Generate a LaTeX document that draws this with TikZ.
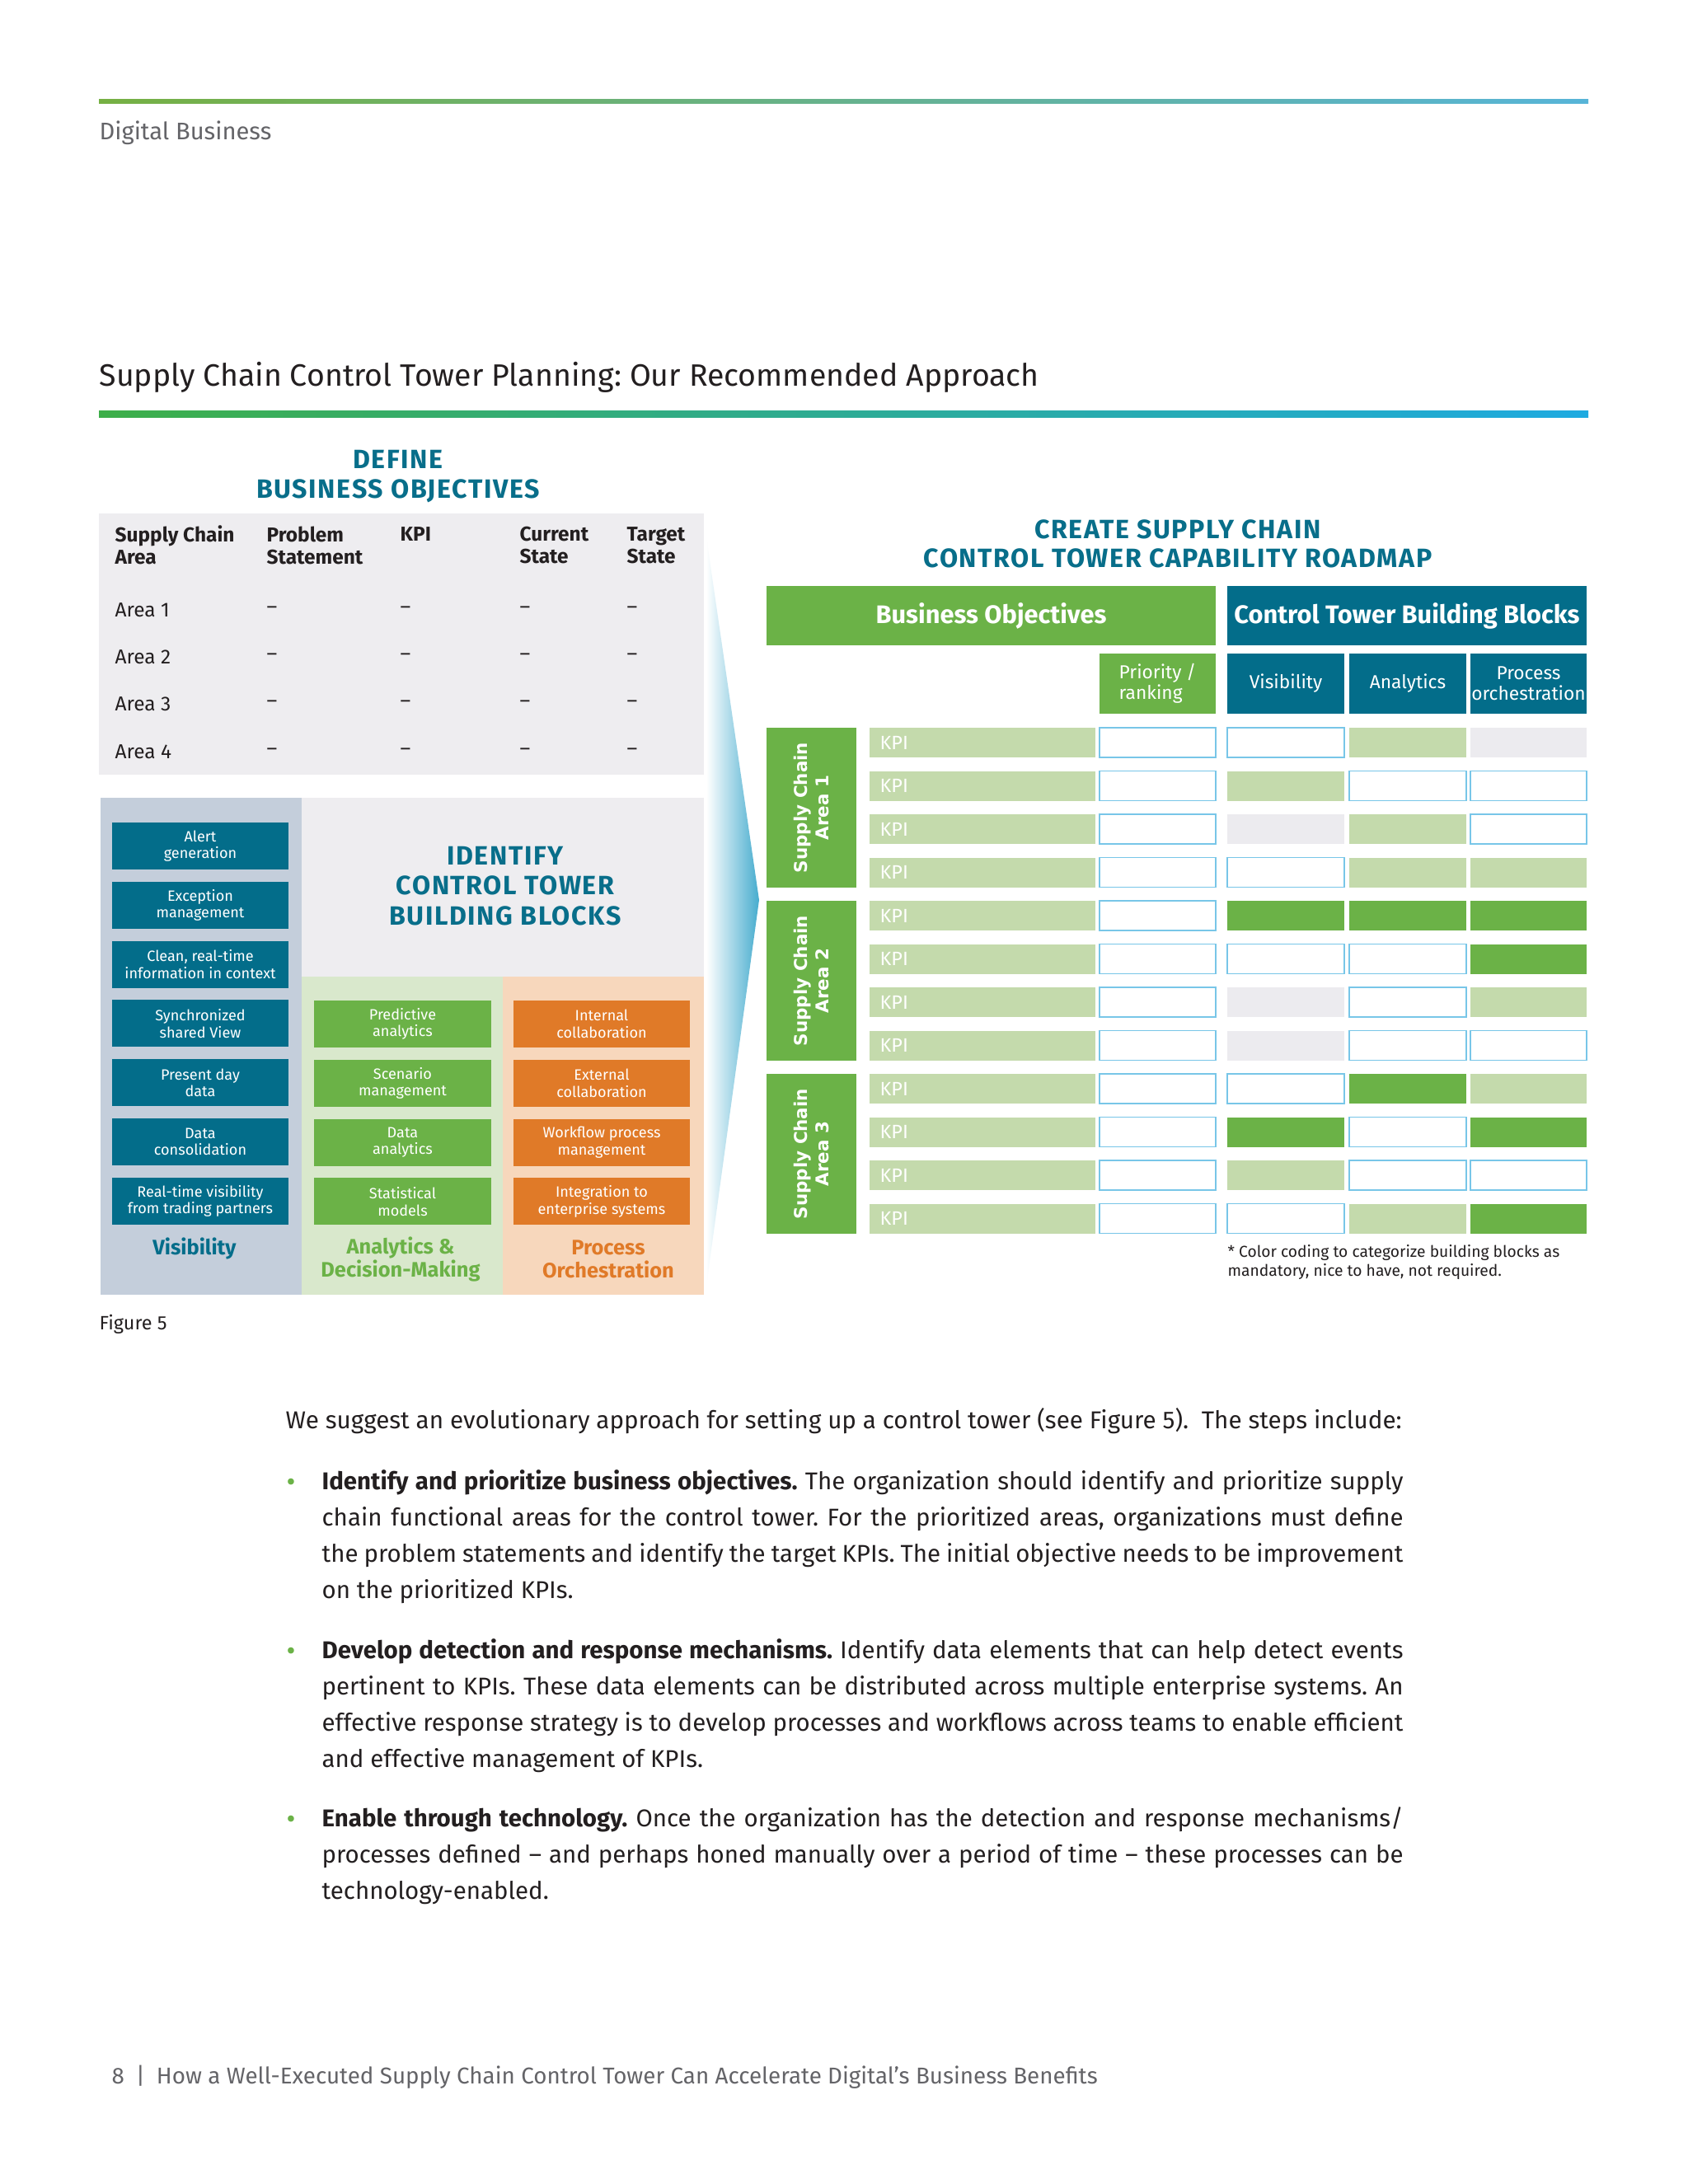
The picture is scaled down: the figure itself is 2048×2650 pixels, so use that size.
\documentclass[tikz,border=0pt]{standalone}
\usepackage{fontspec}
\setmainfont{Fira Sans}
\newfontfamily\verd{DejaVu Sans}
\newfontfamily\headfont{Fira Sans}[LetterSpace=5.0]
\definecolor{ink}{RGB}{35,31,32}
\definecolor{greytxt}{RGB}{100,100,104}
\definecolor{headteal}{RGB}{8,110,138}
\definecolor{boxteal}{RGB}{3,109,138}
\definecolor{cgreen}{RGB}{107,178,71}
\definecolor{lgreen}{RGB}{196,218,172}
\definecolor{lgray}{RGB}{236,235,239}
\definecolor{pgray}{RGB}{238,237,240}
\definecolor{bluegray}{RGB}{196,206,219}
\definecolor{greenbg}{RGB}{217,232,204}
\definecolor{corange}{RGB}{224,122,40}
\definecolor{orangebg}{RGB}{247,215,188}
\definecolor{cellblue}{RGB}{120,198,232}
\definecolor{chevblue}{RGB}{70,172,206}
\definecolor{ruleA}{RGB}{118,176,67}
\definecolor{ruleB}{RGB}{87,180,216}
\definecolor{ruleC}{RGB}{61,174,73}
\definecolor{ruleD}{RGB}{0,168,140}
\definecolor{ruleE}{RGB}{30,170,225}
\newcommand\fsz[2]{\fontsize{#1}{#2}\selectfont}
\newcommand\mkcell[7]{\node[inner sep=0pt,outer sep=0pt,#6,minimum width={(#4-#2)*0.2988pt},minimum height={(#5-#3)*0.2988pt}] (#1) at ({(#2+#4)/2},{(#3+#5)/2}) {#7};}
\tikzset{
  vis/.style={fill=boxteal,text=white,font=\fsz{5.4}{6.1},align=center},
  ana/.style={fill=cgreen,text=white,font=\fsz{5.4}{6.1},align=center},
  orc/.style={fill=corange,text=white,font=\fsz{5.4}{6.1},align=center},
  kpi/.style={fill=lgreen,text=white,font=\fsz{7}{8},inner xsep=3.6pt,text width=74.3pt,align=left},
  cW/.style={fill=white,draw=cellblue,line width=0.55pt},
  cL/.style={fill=lgreen},
  cG/.style={fill=cgreen},
  cE/.style={fill=lgray},
  heading/.style={text=headteal,font=\headfont\bfseries\fsz{9.6}{10.8},align=center},
  thead/.style={anchor=west,text=ink,font=\bfseries\fsz{7.3}{8.1},align=left,inner sep=0pt},
  trow/.style={anchor=west,text=ink,font=\fsz{7.3}{8.1},inner sep=0pt},
  barhead/.style={text=white,font=\bfseries\fsz{9.2}{10}},
  colhead/.style={fill=boxteal,text=white,font=\fsz{6.8}{7.5},align=center},
  body/.style={anchor=north west,inner sep=0pt,text=ink,font=\fsz{8.8}{13.15},text width=392pt,align=justify},
  bullet/.style={text=cgreen,font=\fsz{10}{10},inner sep=0pt}
}
\begin{document}
\frenchspacing
\begin{tikzpicture}[x=0.2988pt,y=-0.2988pt]
\useasboundingbox (0,0) rectangle (2048,2650);
\fill[white] (0,0) rectangle (2048,2650);

% page header
\shade[left color=ruleA,right color=ruleB] (120,120) rectangle (1927,125);
\node[anchor=west,inner sep=0pt,text=greytxt,font=\fsz{8.7}{10}] (runhead) at (120,161) {Digital Business};
\node[anchor=west,inner sep=0pt,text=ink,font=\fsz{11.2}{13}] (title) at (120,458) {Supply Chain Control Tower Planning: Our Recommended Approach};
\shade[left color=ruleC,middle color=ruleD,right color=ruleE] (120,498) rectangle (1927,506);

% define business objectives
\node[heading] (defhead) at (483,578) {DEFINE\\BUSINESS OBJECTIVES};
\mkcell{deftab}{120}{623}{854}{940}{fill=pgray}{}
\node[thead] (h1) at (139,661.5) {Supply Chain\\Area};
\node[thead] (h2) at (323,661.5) {Problem\\Statement};
\node[thead] (h3) at (485,648) {KPI};
\node[thead] (h4) at (630,661.5) {Current\\State};
\node[thead] (h5) at (760,661.5) {Target\\State};
\foreach \n/\yy in {1/740,2/797,3/854,4/912}{
  \node[trow] (area\n) at (139,\yy) {Area \n};
  \node[trow] (d\n a) at (323,\yy) {–};
  \node[trow] (d\n b) at (485,\yy) {–};
  \node[trow] (d\n c) at (630,\yy) {–};
  \node[trow] (d\n d) at (760,\yy) {–};
}

% chevron
\shade[left color=white,right color=chevblue] (857,652) -- (921,1092) -- (857,1560) -- cycle;

% identify building blocks panel
\mkcell{visbg}{122}{968}{366}{1571}{fill=bluegray}{}
\mkcell{idbg}{366}{968}{854}{1185}{fill=pgray}{}
\mkcell{anabg}{366}{1185}{610}{1571}{fill=greenbg}{}
\mkcell{orcbg}{610}{1185}{854}{1571}{fill=orangebg}{}
\node[heading] (idhead) at (613,1075) {IDENTIFY\\CONTROL TOWER\\BUILDING BLOCKS};
\foreach \t [count=\k from 0] in {{Alert\\generation},{Exception\\management},{Clean, real-time\\information in context},{Synchronized\\shared View},{Present day\\data},{Data\\consolidation},{Real-time visibility\\from trading partners}}{
  \pgfmathsetmacro\yt{998+\k*71.8}
  \pgfmathsetmacro\yb{\yt+57}
  \mkcell{vb\k}{136}{\yt}{350}{\yb}{vis}{\t}
}
\foreach \t [count=\k from 0] in {{Predictive\\analytics},{Scenario\\management},{Data\\analytics},{Statistical\\models}}{
  \pgfmathsetmacro\yt{1214+\k*71.8}
  \pgfmathsetmacro\yb{\yt+57}
  \mkcell{ab\k}{381}{\yt}{596}{\yb}{ana}{\t}
}
\foreach \t [count=\k from 0] in {{Internal\\collaboration},{External\\collaboration},{Workflow process\\management},{Integration to\\enterprise systems}}{
  \pgfmathsetmacro\yt{1214+\k*71.8}
  \pgfmathsetmacro\yb{\yt+57}
  \mkcell{ob\k}{623}{\yt}{837}{\yb}{orc}{\t}
}
\node[text=boxteal,font=\bfseries\fsz{7.6}{8.4}] (vislab) at (236,1515) {Visibility};
\node[text=cgreen,font=\bfseries\fsz{7.6}{8.4},align=center] (analab) at (486,1528) {Analytics \&\\Decision-Making};
\node[text=corange,font=\bfseries\fsz{7.6}{8.4},align=center] (orclab) at (738,1528) {Process\\Orchestration};

% roadmap
\node[heading,font=\headfont\bfseries\fsz{9.6}{10.5}] (rmhead) at (1429,659.5) {CREATE SUPPLY CHAIN\\CONTROL TOWER CAPABILITY ROADMAP};
\mkcell{bobar}{930}{711}{1475}{783}{fill=cgreen,barhead}{Business Objectives}
\mkcell{ctbar}{1489}{711}{1925}{783}{fill=boxteal,barhead}{Control Tower Building Blocks}
\mkcell{prihd}{1334}{793}{1475}{866}{fill=cgreen,text=white,font=\fsz{6.8}{7.5}}{}
\node[text=white,font=\fsz{6.8}{7.5},align=left,inner sep=0pt] (pritxt) at (prihd.center) {Priority /\\ranking};
\mkcell{vishd}{1489}{793}{1631}{866}{colhead}{Visibility}
\mkcell{anahd}{1637}{793}{1779}{866}{colhead}{Analytics}
\mkcell{prohd}{1784}{793}{1925}{866}{colhead}{Process\\orchestration}
\foreach \n in {1,2,3}{
  \pgfmathsetmacro\yt{883+(\n-1)*210}
  \pgfmathsetmacro\yb{\yt+194}
  \mkcell{sc\n}{930}{\yt}{1039}{\yb}{fill=cgreen}{}
  \node[rotate=90,text=white,font=\verd\bfseries\fsz{6.4}{7.8},align=center] (sct\n) at (sc\n.center) {Supply Chain\\Area \n};
}
\foreach \va/\vb/\vc [count=\i from 0] in {W/L/E,L/W/W,E/L/W,W/L/L,G/G/G,W/W/G,E/W/L,E/W/W,W/G/L,G/W/G,L/W/W,W/L/G}{
  \pgfmathsetmacro\yt{883+int(\i/4)*210+mod(\i,4)*52.5}
  \pgfmathsetmacro\yb{\yt+36}
  \edef\rowcmd{%
    \noexpand\mkcell{kpi\i}{1055}{\yt}{1329}{\yb}{kpi}{KPI}%
    \noexpand\mkcell{pri\i}{1334}{\yt}{1475}{\yb}{cW}{}%
    \noexpand\mkcell{vis\i}{1489}{\yt}{1631}{\yb}{c\va}{}%
    \noexpand\mkcell{ana\i}{1637}{\yt}{1779}{\yb}{c\vb}{}%
    \noexpand\mkcell{pro\i}{1784}{\yt}{1925}{\yb}{c\vc}{}%
  }
  \rowcmd
}
\node[anchor=west,inner sep=0pt,text=ink,font=\fsz{5.75}{6.9},align=left] (fnote) at (1489,1531.5) {* Color coding to categorize building blocks as\\mandatory, nice to have, not required.};

\node[anchor=west,inner sep=0pt,text=ink,font=\fsz{7}{8}] (figlab) at (120,1607) {Figure 5};

% body text
\node[anchor=west,inner sep=0pt,text=ink,font=\fsz{8.85}{13.15}] (intro) at (346,1724) {We suggest an evolutionary approach for setting up a control tower (see Figure 5).\ \ The steps include:};
\node[bullet] (b1) at (353,1802) {•};
\node[body] (p1) at (390,1783) {\textbf{Identify and prioritize business objectives.} The organization should identify and prioritize supply\linebreak chain functional areas for the control tower. For the prioritized areas, organizations must define\linebreak the problem statements and identify the target KPIs. The initial objective needs to be improvement\linebreak on the prioritized KPIs.};
\node[bullet] (b2) at (353,2007) {•};
\node[body] (p2) at (390,1988) {\textbf{Develop detection and response mechanisms.} Identify data elements that can help detect events\linebreak pertinent to KPIs. These data elements can be distributed across multiple enterprise systems. An\linebreak effective response strategy is to develop processes and workflows across teams to enable efficient\linebreak and effective management of KPIs.};
\node[bullet] (b3) at (353,2211) {•};
\node[body] (p3) at (390,2192) {\textbf{Enable through technology.} Once the organization has the detection and response mechanisms/\linebreak processes defined – and perhaps honed manually over a period of time – these processes can be\linebreak technology-enabled.};

% footer
\node[anchor=west,inner sep=0pt,text=greytxt,font=\fsz{8.3}{10}] (footer) at (135,2520) {8\enspace|\enspace How a Well-Executed Supply Chain Control Tower Can Accelerate Digital’s Business Benefits};
\end{tikzpicture}
\end{document}
